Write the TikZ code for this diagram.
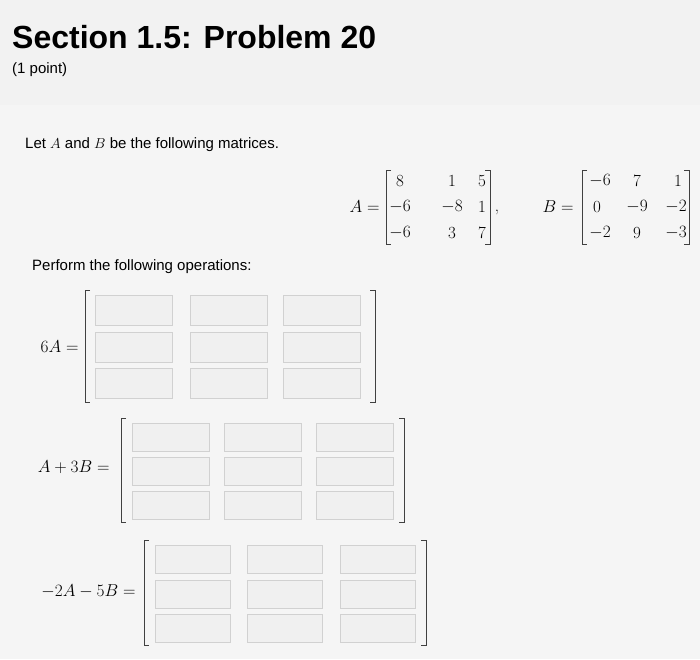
\documentclass[tikz,border=0pt]{standalone}
\usepackage{fontspec}
\setmainfont{Latin Modern Roman}
\newfontfamily\ui{Liberation Sans}
\begin{document}
\begin{tikzpicture}[x=1pt,y=-1pt,
  ansbox/.style={draw=black!18,fill=black!6,line width=1pt},
  brk/.style={draw=black!75,line width=1pt},
  lbl/.style={font=\fontsize{17}{19}\selectfont,anchor=east},
  ent/.style={font=\fontsize{17}{19}\selectfont}]
\useasboundingbox[fill=black!5] (0,0) rectangle (700,659);
\fill[white!96!black] (0,105) rectangle (700,659);
\node[anchor=base west,font=\ui\bfseries\fontsize{32}{36}\selectfont,inner sep=0] (title) at (12,48) {Section 1.5: Problem 20};
\node[anchor=base west,font=\ui\fontsize{15}{17}\selectfont,inner sep=0] (pt) at (12,73) {(1 point)};
\node[anchor=base west,font=\ui\fontsize{15}{17}\selectfont,inner sep=0] (let) at (25,148) {Let $A$ and $B$ be the following matrices.};
\node[anchor=base west,font=\ui\fontsize{15}{17}\selectfont,inner sep=0] (perf) at (32,270) {Perform the following operations:};
% A
\node[lbl] (Alab) at (383,207) {$A=$};
\draw[brk] (391,170) -- (386,170) -- (386,244) -- (391,244);
\draw[brk] (485,170) -- (490,170) -- (490,244) -- (485,244);
\node[ent] (a11) at (400,181) {8}; \node[ent] (a12) at (452,181) {1}; \node[ent] (a13) at (482,181) {5};
\node[ent] (a21) at (400,207) {$-6$}; \node[ent] (a22) at (452,207) {$-8$}; \node[ent] (a23) at (482,207) {1};
\node[ent] (a31) at (400,233) {$-6$}; \node[ent] (a32) at (452,233) {3}; \node[ent] (a33) at (482,233) {7};
\node[ent] (comma) at (497,212) {,};
% B
\node[lbl] (Blab) at (577,207) {$B=$};
\draw[brk] (587,170) -- (582,170) -- (582,244) -- (587,244);
\draw[brk] (684,170) -- (689,170) -- (689,244) -- (684,244);
\node[ent] (b11) at (600,181) {$-6$}; \node[ent] (b12) at (637,181) {7}; \node[ent] (b13) at (678,181) {1};
\node[ent] (b21) at (597,207) {0}; \node[ent] (b22) at (637,207) {$-9$}; \node[ent] (b23) at (676,207) {$-2$};
\node[ent] (b31) at (600,233) {$-2$}; \node[ent] (b32) at (637,233) {9}; \node[ent] (b33) at (676,233) {$-3$};
% 6A
\node[lbl] (l1) at (82,347) {$6A=$};
\draw[brk] (90,290) -- (85,290) -- (85,402) -- (90,402);
\draw[brk] (370,290) -- (375,290) -- (375,402) -- (370,402);
\foreach \x in {95,190,283}\foreach \y in {295,332,368}
  \draw[ansbox] (\x,\y) rectangle +(77,30);
% A+3B
\node[lbl] (l2) at (113,467) {$A+3B=$};
\draw[brk] (126,418) -- (121,418) -- (121,522) -- (126,522);
\draw[brk] (399,418) -- (404,418) -- (404,522) -- (399,522);
\foreach \x in {132,224,316}\foreach \y in {423,457,491}
  \draw[ansbox] (\x,\y) rectangle +(77,28);
% -2A-5B
\node[lbl] (l3) at (139,591) {$-2A-5B=$};
\draw[brk] (149,540) -- (144,540) -- (144,645) -- (149,645);
\draw[brk] (421,540) -- (426,540) -- (426,645) -- (421,645);
\foreach \x in {155,247,340}\foreach \y in {545,580,614}
  \draw[ansbox] (\x,\y) rectangle +(75,28);
\end{tikzpicture}
\end{document}
